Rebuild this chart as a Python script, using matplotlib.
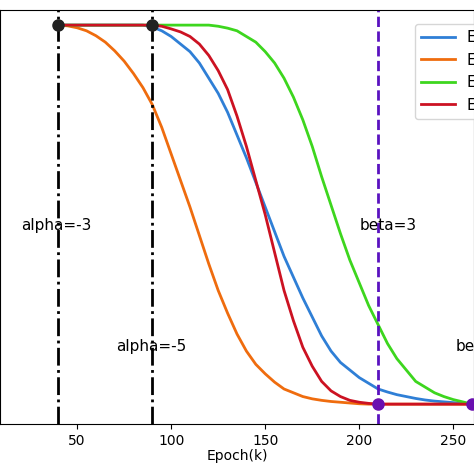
import matplotlib
matplotlib.use('Agg')
import matplotlib.pyplot as plt
import numpy as np

# normalised value (1 = top plateau, 0 = bottom), every 5k epochs
x_pts = list(range(40, 265, 5))
blue = [1, 1, 1, 1, 1, 1, 1, 1, 1, 1, 0.995, 0.985, 0.97, 0.95, 0.93, 0.9, 0.86,
        0.82, 0.77, 0.71, 0.65, 0.585, 0.52, 0.455, 0.39, 0.335, 0.28, 0.23, 0.18,
        0.14, 0.11, 0.09, 0.07, 0.055, 0.04, 0.032, 0.025, 0.02, 0.015, 0.011,
        0.008, 0.006, 0.004, 0.002, 0, ]
orange = [1, 0.998, 0.993, 0.985, 0.972, 0.955, 0.932, 0.905, 0.872, 0.835, 0.79,
          0.73, 0.66, 0.59, 0.52, 0.445, 0.37, 0.3, 0.24, 0.185, 0.14, 0.105, 0.08,
          0.058, 0.04, 0.03, 0.02, 0.014, 0.01, 0.007, 0.005, 0.003, 0.001, 0, 0,
          0, 0, 0, 0, 0, 0, 0, 0, 0, 0]
green = [1, 1, 1, 1, 1, 1, 1, 1, 1, 1, 1, 1, 1, 1, 1, 1, 1, 0.997, 0.992, 0.985,
         0.97, 0.955, 0.93, 0.9, 0.86, 0.81, 0.75, 0.68, 0.6, 0.525, 0.45, 0.38,
         0.32, 0.26, 0.21, 0.16, 0.12, 0.09, 0.06, 0.045, 0.03, 0.02, 0.012, 0.006, 0]
red = [1, 1, 1, 1, 1, 1, 1, 1, 1, 1, 1, 0.997, 0.99, 0.982, 0.97, 0.95, 0.92,
       0.88, 0.83, 0.76, 0.68, 0.59, 0.5, 0.4, 0.3, 0.22, 0.15, 0.1, 0.06, 0.035,
       0.02, 0.01, 0.005, 0.002, 0, 0, 0, 0, 0, 0, 0, 0, 0, 0, 0]
labels = ['Exp 1', 'Exp 2', 'Exp 3', 'Exp 4']
alpha_x = [40, 90]
beta_x = [210, 260]

fig = plt.figure(figsize=(4.74, 4.74), dpi=100)
ax = fig.add_axes([0, 0.105, 1, 0.874])
ax.plot(x_pts, blue, color='#2f7fd6', lw=2, label=labels[0])
ax.plot(x_pts, orange, color='#ef6c0e', lw=2, label=labels[1])
ax.plot(x_pts, green, color='#3dd61e', lw=2, label=labels[2])
ax.plot(x_pts, red, color='#cc1222', lw=2, label=labels[3])

for xa in alpha_x:
    ax.axvline(xa, color='black', ls='-.', lw=2)
    ax.plot(xa, 1, 'o', color='#222222', ms=8, zorder=5)
ax.axvline(beta_x[0], color='#5a12c0', ls='--', lw=2)
for xb in beta_x:
    ax.plot(xb, 0, 'o', color='#6a10b0', ms=8, zorder=5)

ax.text(20, 0.46, 'alpha=-3', fontsize=11)
ax.text(71, 0.14, 'alpha=-5', fontsize=11)
ax.text(200, 0.46, 'beta=3', fontsize=11)
ax.text(251, 0.14, 'beta=5', fontsize=11)

ax.set_xlim(9, 261)
ax.set_ylim(-0.053, 1.04)
ax.set_xticks([50, 100, 150, 200, 250])
ax.set_yticks([])
ax.tick_params(labelsize=10)
ax.set_xlabel('Epoch(k)', fontsize=10, labelpad=1)
ax.legend(loc='upper left', bbox_to_anchor=(0.86, 0.985), fontsize=11,
          handlelength=2.2)
fig.savefig('out.png', dpi=100)
